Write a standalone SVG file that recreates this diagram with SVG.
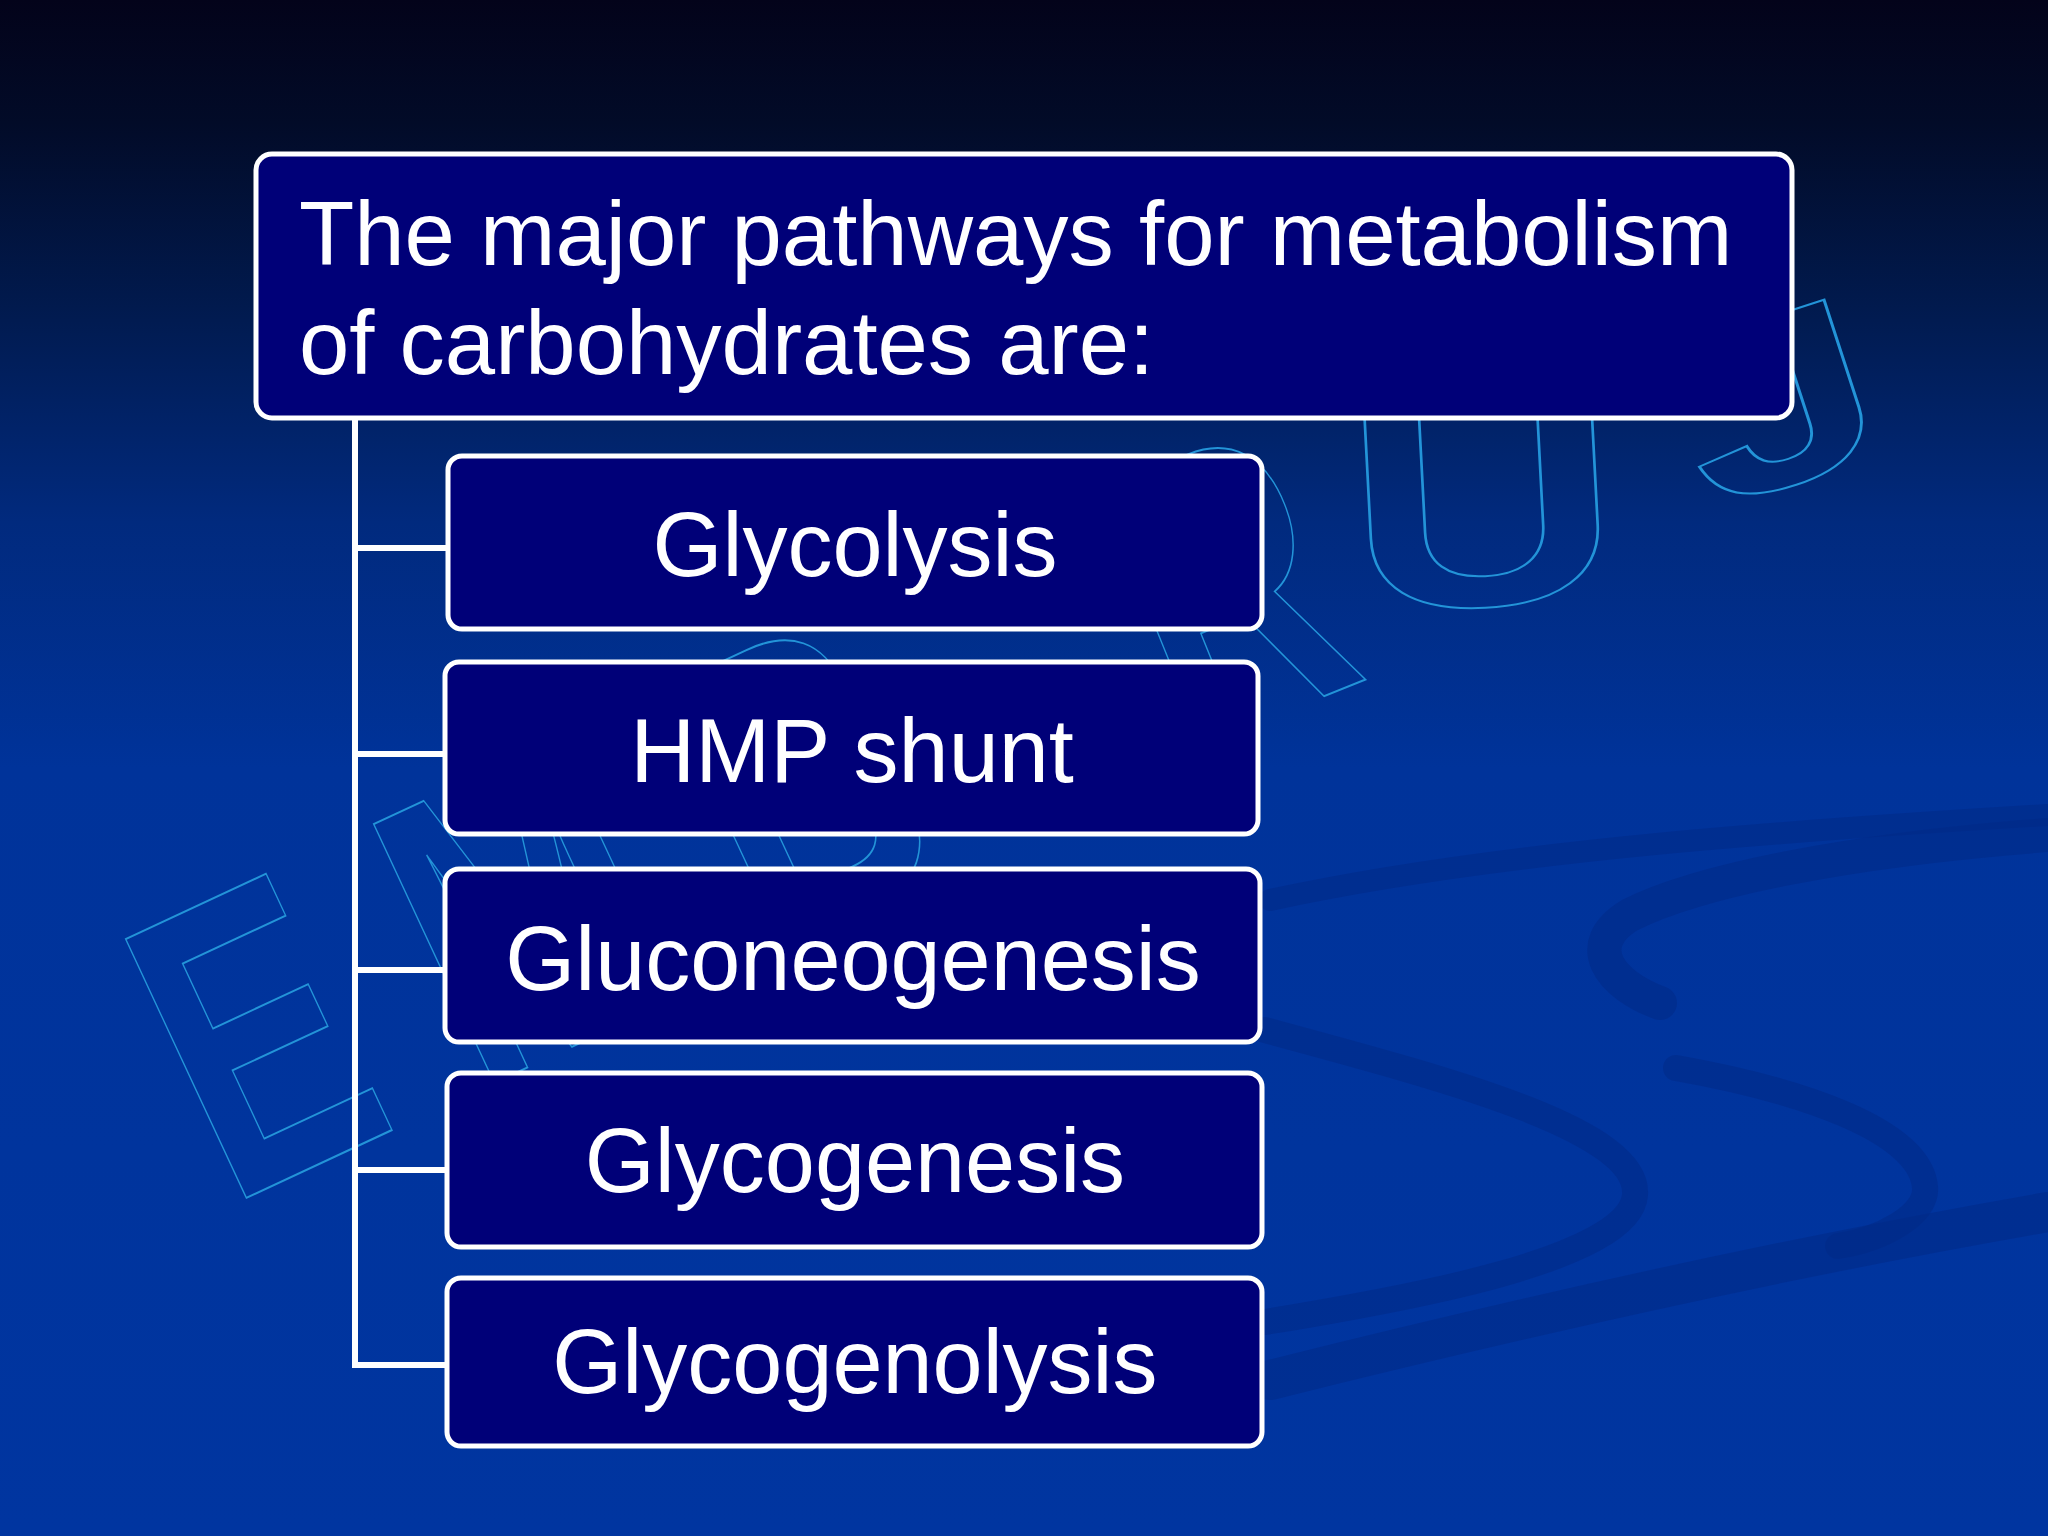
<svg xmlns="http://www.w3.org/2000/svg" width="2048" height="1536" viewBox="0 0 2048 1536">
  <defs>
    <linearGradient id="bg" x1="0" y1="0" x2="0" y2="1">
      <stop offset="0" stop-color="#03031a"/>
      <stop offset="0.08" stop-color="#020b28"/>
      <stop offset="0.2" stop-color="#011a4e"/>
      <stop offset="0.34" stop-color="#012a7e"/>
      <stop offset="0.5" stop-color="#00339a"/>
      <stop offset="1" stop-color="#0035a0"/>
    </linearGradient>
    <style>
      .box { fill: #000078; stroke: #ffffff; stroke-width: 5; }
      .conn { fill: none; stroke: #ffffff; stroke-width: 6; }
      .title { font-family: "Liberation Sans", Arial, sans-serif; font-size: 90.5px; fill: #ffffff; }
      .label { font-family: "Liberation Sans", Arial, sans-serif; font-size: 90px; fill: #ffffff; text-anchor: middle; }
      .wm { font-family: "Liberation Sans", Arial, sans-serif; font-weight: bold; fill: none; stroke: #2394d8; stroke-width: 2; }
      .swoosh { fill: none; stroke: #002a86; stroke-linecap: round; opacity: 0.55; }
    </style>
  </defs>

  <rect x="0" y="0" width="2048" height="1536" fill="url(#bg)"/>

  <g id="background-swooshes">
    <path class="swoosh" stroke-width="22" d="M1270 900 C1500 850 1800 830 2048 815"/>
    <path class="swoosh" stroke-width="34" d="M2048 835 C1850 850 1700 880 1630 915 C1580 945 1610 985 1660 1003"/>
    <path class="swoosh" stroke-width="26" d="M1265 1030 C1450 1080 1640 1130 1635 1195 C1630 1260 1400 1300 1265 1322"/>
    <path class="swoosh" stroke-width="26" d="M1676 1068 C1800 1090 1920 1130 1925 1187 C1928 1215 1880 1240 1838 1246"/>
    <path class="swoosh" stroke-width="40" d="M1270 1380 C1550 1310 1800 1255 2048 1212"/>
  </g>

  <g id="watermark">
    <text class="wm" font-size="415" transform="translate(229,1206) rotate(-25) scale(0.69,1)">E</text>
    <text class="wm" font-size="415" transform="translate(477,1091) rotate(-25) scale(0.69,1)">M</text>
    <text class="wm" font-size="415" transform="translate(768,955) rotate(-25) scale(0.69,1)">B</text>
    <text class="wm" font-size="400" transform="translate(1186,752) rotate(-22) scale(0.69,1)">R</text>
    <text class="wm" font-size="280" transform="translate(1352,612) rotate(-3) scale(1.35,1)">U</text>
    <text class="wm" font-size="240" transform="translate(1708,511) rotate(-18) scale(1.5,1)">J</text>
  </g>

  <g id="connectors">
    <path class="conn" d="M355 418 V1368"/>
    <path class="conn" d="M355 548 H448"/>
    <path class="conn" d="M355 754 H445"/>
    <path class="conn" d="M355 970 H445"/>
    <path class="conn" d="M355 1170 H447"/>
    <path class="conn" d="M352 1365 H447"/>
  </g>

  <g id="title">
    <rect class="box" x="256" y="154" width="1536" height="264" rx="16"/>
    <text class="title" x="299" y="265">The major pathways for metabolism</text>
    <text class="title" x="299" y="374">of carbohydrates are:</text>
  </g>

  <g id="glycolysis">
    <rect class="box" x="448" y="456" width="814" height="173" rx="14"/>
    <text class="label" x="855" y="576">Glycolysis</text>
  </g>

  <g id="hmp-shunt">
    <rect class="box" x="445" y="662" width="813" height="172" rx="14"/>
    <text class="label" x="852" y="782">HMP shunt</text>
  </g>

  <g id="gluconeogenesis">
    <rect class="box" x="445" y="869" width="815" height="173" rx="14"/>
    <text class="label" x="853" y="990">Gluconeogenesis</text>
  </g>

  <g id="glycogenesis">
    <rect class="box" x="447" y="1073" width="815" height="174" rx="14"/>
    <text class="label" x="855" y="1192">Glycogenesis</text>
  </g>

  <g id="glycogenolysis">
    <rect class="box" x="447" y="1278" width="815" height="168" rx="14"/>
    <text class="label" x="855" y="1393">Glycogenolysis</text>
  </g>
</svg>
